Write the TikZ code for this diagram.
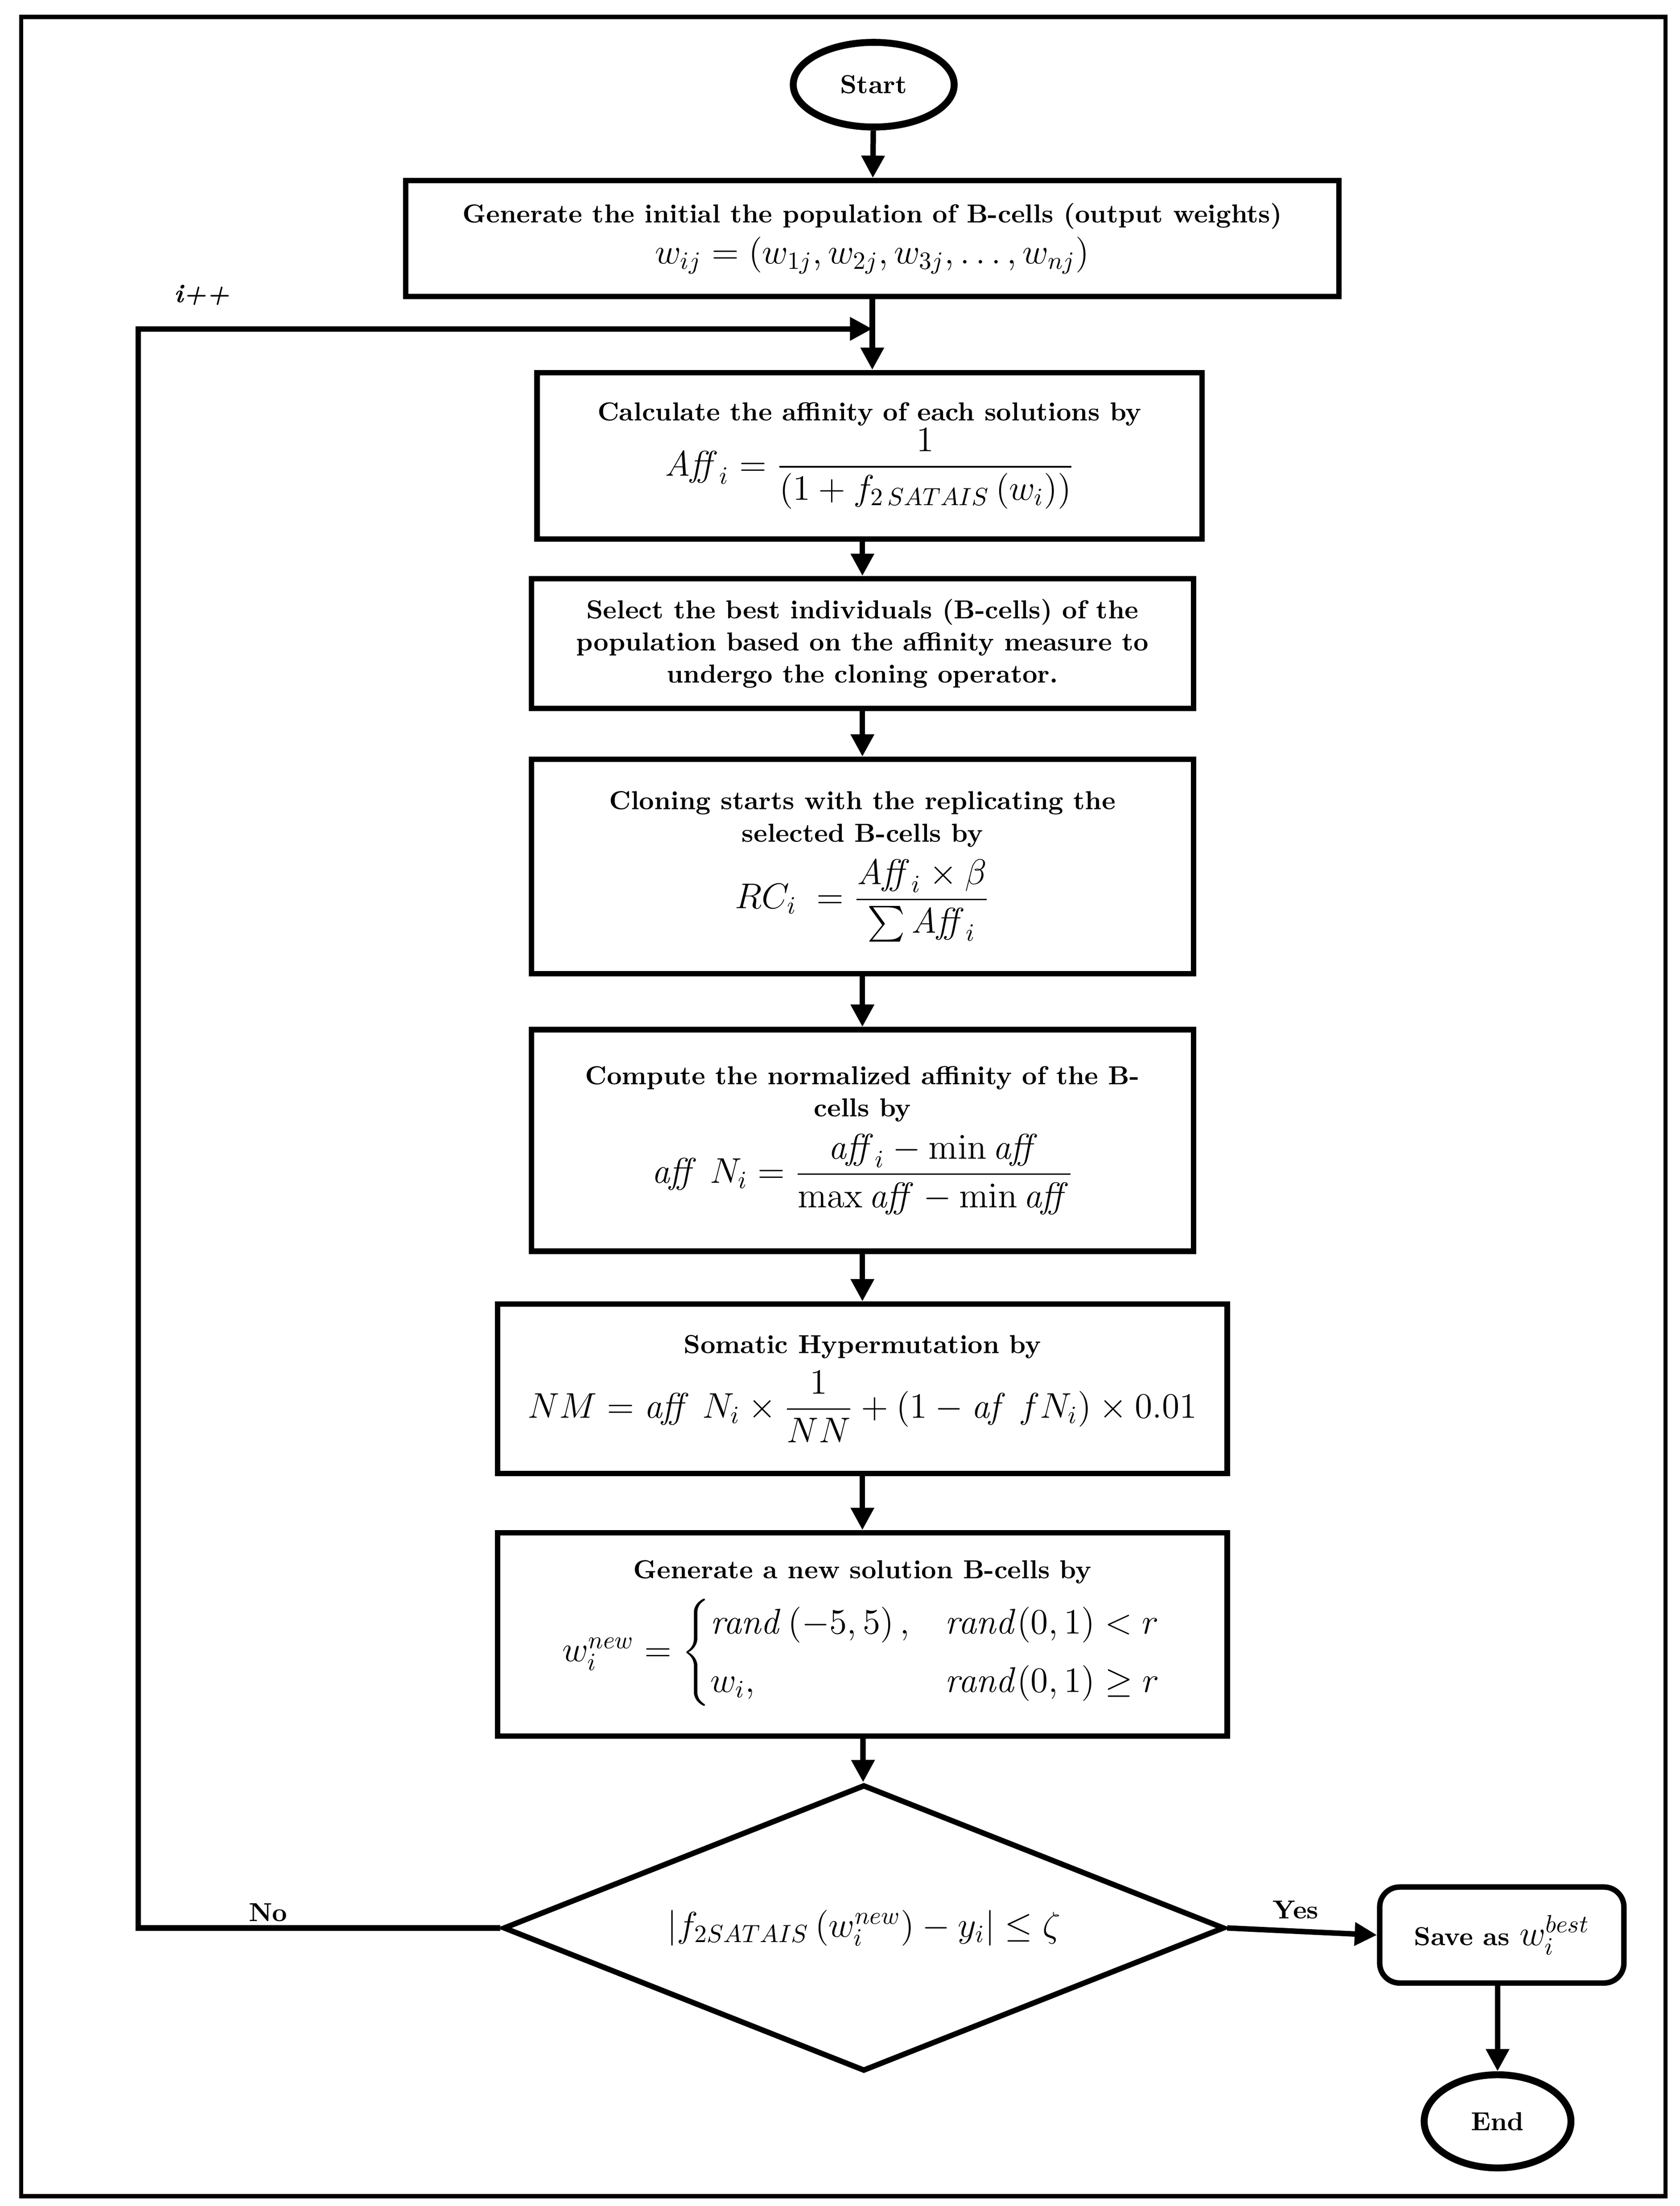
\documentclass[tikz,border=0pt]{standalone}
\usepackage{amsmath,amssymb}
\usetikzlibrary{shapes.geometric,arrows.meta}
\begin{document}
\begin{tikzpicture}[x=0.02cm,y=-0.02cm,
  box/.style={draw,line width=2.2pt,rectangle,align=center,inner sep=0pt,font=\bfseries\fontsize{10.5}{13}\selectfont},
  arr/.style={line width=2.2pt,-{Triangle[length=9pt,width=9pt]}},
  lbl/.style={font=\bfseries\fontsize{10.5}{13}\selectfont}]
\useasboundingbox (0,0) rectangle (1190,1563);
\draw[line width=1.7pt] (15,12) rectangle (1180,1556);
\node[draw,ellipse,line width=2.8pt,minimum width=114*0.02cm,minimum height=60*0.02cm,font=\bfseries\fontsize{10.5}{13}\selectfont] (start) at (619,60) {Start};
\node[box,minimum width=661*0.02cm,minimum height=82*0.02cm] (b1) at (618,169)
 {Generate the initial the population of B-cells (output weights)\\[2pt]
 \normalfont\Large $w_{ij}=\left(w_{1j},w_{2j},w_{3j},\ldots,w_{nj}\right)$};
\node[box,minimum width=471*0.02cm,minimum height=118*0.02cm] (b2) at (616,323)
 {Calculate the affinity of each solutions by\\
 \normalfont\Large $\mathit{Aff}_i=\dfrac{1}{\left(1+f_{2\,SATAIS}\left(w_i\right)\right)}$};
\node[box,minimum width=469*0.02cm,minimum height=92*0.02cm] (b3) at (611,456)
 {Select the best individuals (B-cells) of the\\population based on the affinity measure to\\undergo the cloning operator.};
\node[box,minimum width=469*0.02cm,minimum height=152*0.02cm] (b4) at (611,614)
 {Cloning starts with the replicating the\\selected B-cells by\\[4pt]
 \normalfont\Large $RC_i\;=\dfrac{\mathit{Aff}_i\times\beta}{\sum \mathit{Aff}_i}$};
\node[box,minimum width=469*0.02cm,minimum height=157*0.02cm] (b5) at (611,808)
 {Compute the normalized affinity of the B-\\cells by\\[4pt]
 \normalfont\Large $\mathit{aff}\ N_i=\dfrac{\mathit{aff}_i-\min \mathit{aff}}{\max \mathit{aff}-\min\mathit{aff}}$};
\node[box,minimum width=517*0.02cm,minimum height=120*0.02cm] (b6) at (611,984)
 {Somatic Hypermutation by\\[4pt]
 \normalfont\Large $NM=\mathit{aff}\ N_i\times\dfrac{1}{NN}+(1-\mathit{af}\ fN_i)\times 0.01$};
\node[box,minimum width=517*0.02cm,minimum height=144*0.02cm] (b7) at (611,1158)
 {Generate a new solution B-cells by\\[4pt]
 \normalfont\Large $w_i^{new}=\begin{cases}\mathit{rand}\left(-5,5\right), & \mathit{rand}(0,1)<r\\[2pt] w_i, & \mathit{rand}(0,1)\ge r\end{cases}$};
\node[draw,diamond,line width=2.2pt,minimum width=511*0.02cm,minimum height=203*0.02cm,inner sep=0pt,aspect=2.5] (d) at (612,1366)
 {\Large $\left|f_{2SATAIS}\left(w_i^{new}\right)-y_i\right|\le\zeta$};
\node[box,rounded corners=8pt,minimum width=173*0.02cm,minimum height=68*0.02cm] (save) at (1064,1371)
 {Save as \normalfont\Large $w_i^{best}$};
\node[draw,ellipse,line width=2.8pt,minimum width=104*0.02cm,minimum height=66*0.02cm,font=\bfseries\fontsize{10.5}{13}\selectfont] (end) at (1061,1503) {End};
\coordinate (j) at (618,233);
\draw[arr] (start) -- (b1);
\draw[arr] (b1.south) -- (b2.north -| b1.south);
\draw[arr] (b2.south -| b3) -- (b3);
\draw[arr] (b3) -- (b4);
\draw[arr] (b4) -- (b5);
\draw[arr] (b5) -- (b6);
\draw[arr] (b6) -- (b7);
\draw[arr] (b7) -- (d);
\draw[arr] (d.east) -- (save.west);
\draw[arr] (save.south -| end) -- (end);
\draw[arr] (d.west) -- (98,1366) -- (98,233) -- (j);
\node[font=\bfseries\itshape\fontsize{10.5}{13}\selectfont] (ipp) at (143,209) {i++};
\node[lbl] (no) at (190,1355) {No};
\node[lbl] (yes) at (918,1353) {Yes};
\end{tikzpicture}
\end{document}
